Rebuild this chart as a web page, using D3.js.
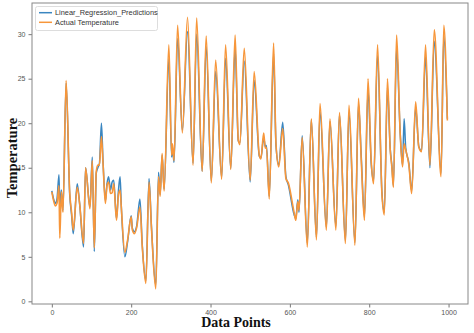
<!DOCTYPE html>
<html>
<head>
<meta charset="utf-8">
<title>Linear regression predictions vs actual temperature</title>
<script src="https://cdn.jsdelivr.net/npm/d3@7"></script>
<style>
    body { margin: 0; padding: 0; background: #fff; }
    .tick text { font-family: "Liberation Sans", Arial, sans-serif; font-size: 7px; fill: #555; }
    .tick line { stroke: #777; }
    .axis-title { font-family: "Liberation Serif", "Times New Roman", serif; font-weight: bold; fill: #111; }
    .legend text { font-family: "Liberation Sans", Arial, sans-serif; font-size: 7.4px; fill: #333; }
</style>
</head>
<body>
<script>
// sample index of each point
var xs = [0, 5, 9, 13, 18, 20, 24, 28, 36, 45, 50, 54, 64, 70, 80, 85, 96, 102, 107, 112,
    116, 120, 125, 129, 135, 139, 143, 148, 152, 156, 163, 168, 172, 175, 184, 191, 200, 203, 208, 214,
    222, 228, 237, 245, 251, 262, 269, 273, 278, 283, 295, 302, 304, 308, 317, 329, 342, 356, 365, 379,
    389, 402, 413, 428, 438, 451, 462, 470, 474, 485, 500, 510, 523, 527, 534, 538, 541, 548, 559, 565,
    572, 582, 590, 596, 611, 615, 620, 623, 631, 644, 654, 667, 676, 692, 701, 716, 725, 740, 749, 764,
    773, 780, 788, 797, 805, 811, 821, 832, 838, 846, 853, 857, 861, 869, 878, 884, 888, 892, 900, 907,
    917, 925, 932, 942, 953, 964, 981, 988, 997];

var actual = [12.3, 11.2, 10.7, 11.0, 13.0, 7.1, 12.3, 10.0, 24.8, 12.3, 9.9, 8.0, 12.8, 11.0, 6.5, 15.0, 10.4, 15.8, 6.0, 14.6,
    15.3, 15.3, 18.5, 15.5, 11.0, 13.0, 13.4, 12.1, 12.2, 13.2, 9.1, 12.0, 12.5, 10.6, 5.5, 6.9, 9.5, 8.0, 7.6, 8.3,
    10.6, 6.1, 2.0, 13.4, 8.3, 1.4, 14.0, 11.8, 16.6, 12.4, 28.8, 16.4, 17.7, 15.8, 31.0, 18.9, 31.9, 15.3, 31.8, 14.6,
    29.8, 13.3, 27.1, 13.7, 28.8, 14.8, 29.9, 18.1, 17.6, 28.4, 13.6, 25.8, 16.4, 16.0, 18.9, 17.2, 17.3, 11.5, 29.0, 17.7,
    15.1, 19.4, 13.8, 13.3, 9.9, 9.1, 11.2, 10.2, 18.4, 6.1, 20.5, 6.9, 22.2, 8.0, 20.5, 8.0, 21.2, 6.5, 22.0, 6.3,
    22.8, 15.8, 9.1, 25.0, 15.8, 13.2, 28.8, 12.1, 9.7, 25.0, 17.0, 15.1, 12.8, 29.9, 18.9, 15.1, 17.7, 17.0, 15.3, 12.1,
    22.4, 17.3, 16.8, 28.8, 15.3, 30.5, 14.0, 31.0, 20.3];

var predicted = [12.4, 11.4, 11.0, 11.5, 14.2, 10.5, 12.5, 10.2, 24.5, 12.0, 9.6, 7.6, 13.2, 11.0, 6.1, 15.0, 10.6, 16.2, 5.6, 14.4,
    15.0, 15.5, 20.0, 15.8, 11.3, 13.2, 14.0, 12.5, 13.4, 13.6, 9.3, 12.5, 14.0, 10.8, 5.0, 6.7, 9.6, 8.2, 7.8, 8.5,
    11.5, 6.3, 2.3, 13.8, 8.5, 1.8, 14.5, 12.0, 16.4, 12.6, 27.2, 16.2, 17.3, 15.6, 29.5, 19.2, 30.3, 15.5, 30.0, 14.6,
    28.6, 13.5, 25.8, 13.9, 27.3, 14.9, 28.5, 18.0, 17.8, 27.0, 13.4, 24.8, 16.3, 16.1, 18.4, 17.4, 17.5, 11.8, 27.8, 17.5,
    15.3, 20.1, 14.0, 13.1, 9.7, 9.3, 11.4, 10.0, 18.6, 6.5, 20.4, 7.2, 21.3, 8.3, 20.2, 8.4, 21.0, 6.8, 21.2, 6.6,
    22.2, 16.2, 9.5, 23.8, 15.5, 13.5, 27.6, 12.3, 10.0, 24.0, 17.1, 15.3, 13.0, 28.5, 19.0, 15.3, 20.5, 17.2, 15.5, 12.4,
    21.8, 17.4, 16.9, 27.5, 15.0, 29.2, 14.4, 29.8, 20.5];

var yTicks = [0, 5, 10, 15, 20, 25, 30];
var xTicks = [0, 200, 400, 600, 800, 1000];
var seriesNames = ["Linear_Regression_Predictions", "Actual Temperature"];
var seriesColors = ["#3a86c0", "#f7963a"];

var w = 474, h = 333;
var plotLeft = 32, plotRight = 468, plotTop = 3, plotBottom = 304;

var svg = d3.select("body").append("svg")
    .attr("width", w)
    .attr("height", h);

var x = d3.scaleLinear().domain([-50, 1049]).range([plotLeft, plotRight]);
var y = d3.scaleLinear().domain([-0.3, 33.5]).range([plotBottom, plotTop]);

// axes
var xAxis = svg.append("g")
    .attr("transform", "translate(0," + plotBottom + ")")
    .call(d3.axisBottom(x).tickValues(xTicks).tickFormat(d3.format("d")).tickSize(3.5).tickPadding(2.5));
xAxis.select(".domain").remove();

var yAxis = svg.append("g")
    .attr("transform", "translate(" + plotLeft + ",0)")
    .call(d3.axisLeft(y).tickValues(yTicks).tickSize(3.5).tickPadding(3));
yAxis.select(".domain").remove();

// lines
var line = function(vals) {
    return d3.line()
        .x(function(d, i) { return x(xs[i]); })
        .y(function(d) { return y(d); })
        .curve(d3.curveMonotoneX)(vals);
};

svg.append("path")
    .attr("d", line(predicted))
    .attr("fill", "none")
    .attr("stroke", seriesColors[0])
    .attr("stroke-width", 1.5)
    .attr("stroke-linejoin", "round");

svg.append("path")
    .attr("d", line(actual))
    .attr("fill", "none")
    .attr("stroke", seriesColors[1])
    .attr("stroke-width", 1.6)
    .attr("stroke-linejoin", "round");

// frame
svg.append("rect")
    .attr("x", plotLeft).attr("y", plotTop)
    .attr("width", plotRight - plotLeft).attr("height", plotBottom - plotTop)
    .attr("fill", "none")
    .attr("stroke", "#888")
    .attr("stroke-width", 1);

// legend
var legend = svg.append("g").attr("class", "legend");
legend.append("rect")
    .attr("x", 35.5).attr("y", 6.5)
    .attr("width", 122).attr("height", 24)
    .attr("rx", 2)
    .attr("fill", "#fff")
    .attr("stroke", "#ddd");

seriesNames.forEach(function(name, i) {
    var ly = 12.7 + i * 9.6;
    legend.append("line")
        .attr("x1", 39).attr("x2", 52)
        .attr("y1", ly).attr("y2", ly)
        .attr("stroke", seriesColors[i])
        .attr("stroke-width", 1.5);
    legend.append("text")
        .attr("x", 55).attr("y", ly)
        .attr("dy", "0.35em")
        .text(name);
});

// axis titles
svg.append("text")
    .attr("class", "axis-title")
    .attr("x", 236).attr("y", 327)
    .attr("text-anchor", "middle")
    .attr("font-size", "14px")
    .text("Data Points");

svg.append("text")
    .attr("class", "axis-title")
    .attr("transform", "translate(16.5,158) rotate(-90)")
    .attr("text-anchor", "middle")
    .attr("font-size", "14.5px")
    .text("Temperature");
</script>
</body>
</html>
